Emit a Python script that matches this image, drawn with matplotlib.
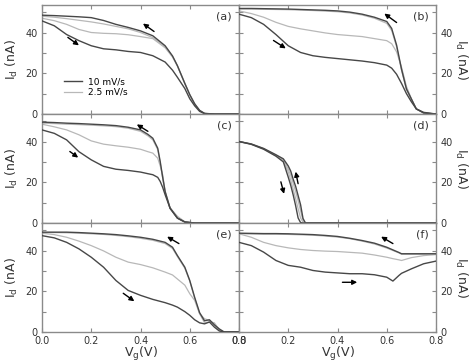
import numpy as np
import matplotlib
matplotlib.use('Agg')
import matplotlib.pyplot as plt

# ---- data (Vg in V, Id in nA) ----
vg_a = [0, 0.05, 0.1, 0.15, 0.2, 0.25, 0.3, 0.35, 0.4, 0.45, 0.5, 0.53, 0.55, 0.58, 0.6, 0.62, 0.64, 0.66, 0.7, 0.8]
a_bwd10 = [48.5, 48.3, 48.0, 47.7, 47.3, 45.9, 44.0, 42.5, 40.8, 38.4, 33.5, 28.5, 23.7, 15.0, 9.5, 5.0, 1.8, 0.3, 0, 0]
a_bwd25 = [48.0, 47.5, 46.8, 46.0, 45.2, 44.2, 43.0, 41.8, 40.0, 37.5, 33.0, 28.2, 23.5, 14.8, 9.3, 4.8, 1.6, 0.2, 0, 0]
a_fwd25 = [47.0, 45.8, 44.0, 41.5, 40.0, 39.6, 39.4, 38.9, 38.0, 37.0, 32.5, 28.0, 23.6, 15.2, 9.6, 5.0, 1.7, 0.3, 0, 0]
a_fwd10 = [45.7, 43.3, 39.0, 36.0, 33.5, 32.0, 31.5, 30.7, 30.2, 28.6, 25.5, 21.5, 18.0, 12.5, 7.5, 4.0, 1.3, 0.2, 0, 0]

vg_b = [0, 0.05, 0.1, 0.15, 0.2, 0.25, 0.3, 0.35, 0.4, 0.45, 0.5, 0.55, 0.6, 0.62, 0.64, 0.66, 0.68, 0.7, 0.72, 0.75, 0.8]
b_bwd10 = [51.8, 51.8, 51.7, 51.6, 51.5, 51.3, 51.1, 50.9, 50.6, 50.0, 49.0, 47.5, 45.4, 42.0, 33.8, 22.0, 12.3, 7.4, 2.5, 0.5, 0]
b_bwd25 = [51.5, 51.5, 51.4, 51.3, 51.2, 51.0, 50.8, 50.5, 50.2, 49.6, 48.6, 47.0, 44.5, 41.0, 33.0, 21.5, 12.0, 7.2, 2.4, 0.5, 0]
b_fwd25 = [50.6, 49.3, 47.5, 45.0, 43.0, 41.8, 40.8, 39.8, 39.0, 38.5, 38.0, 37.0, 36.0, 34.5, 30.5, 23.0, 13.5, 7.5, 2.5, 0.5, 0]
b_fwd10 = [49.0, 47.3, 44.0, 39.0, 33.5, 30.2, 28.6, 27.8, 27.2, 26.6, 26.0, 25.2, 24.0, 22.5, 19.5, 15.0, 10.0, 6.0, 2.5, 0.8, 0]

vg_c = [0, 0.05, 0.1, 0.15, 0.2, 0.25, 0.3, 0.35, 0.4, 0.43, 0.45, 0.47, 0.48, 0.49, 0.5, 0.52, 0.55, 0.58, 0.62, 0.8]
c_bwd10 = [49.5, 49.3, 49.0, 48.8, 48.5, 48.2, 47.8, 47.0, 45.7, 43.5, 41.6, 36.7, 30.2, 22.5, 15.5, 7.3, 2.4, 0.5, 0, 0]
c_bwd25 = [49.0, 48.8, 48.5, 48.3, 48.0, 47.7, 47.3, 46.5, 45.0, 42.8, 40.8, 36.0, 29.5, 22.0, 15.0, 7.0, 2.3, 0.4, 0, 0]
c_fwd25 = [48.5, 47.2, 45.7, 43.3, 40.3, 38.7, 37.9, 37.2, 36.2, 35.0, 34.3, 31.8, 28.0, 23.7, 15.5, 7.5, 3.3, 0.6, 0, 0]
c_fwd10 = [45.7, 44.0, 40.8, 35.0, 31.0, 27.8, 26.4, 25.8, 25.0, 24.2, 23.7, 22.4, 20.4, 17.5, 13.9, 7.3, 2.4, 0.5, 0, 0]

vg_d = [0, 0.05, 0.1, 0.15, 0.18, 0.2, 0.21, 0.22, 0.23, 0.24, 0.25, 0.26, 0.27, 0.8]
d_bwd10 = [40.0, 38.8, 36.6, 33.5, 31.5, 28.0, 25.5, 21.5, 18.0, 13.5, 9.0, 2.2, 0, 0]
d_bwd25 = [40.0, 38.7, 36.5, 33.3, 31.0, 26.5, 23.5, 19.5, 15.5, 11.0, 6.0, 1.2, 0, 0]
d_fwd25 = [40.0, 38.7, 36.4, 33.0, 30.7, 25.0, 21.0, 16.5, 12.0, 7.0, 2.5, 0.3, 0, 0]
d_fwd10 = [40.0, 38.6, 36.2, 32.8, 30.0, 22.5, 18.5, 13.8, 8.5, 2.5, 0.2, 0, 0, 0]

vg_e = [0, 0.05, 0.1, 0.15, 0.2, 0.25, 0.3, 0.35, 0.4, 0.45, 0.5, 0.53, 0.55, 0.58, 0.6, 0.62, 0.64, 0.66, 0.68, 0.7, 0.72, 0.74, 0.8]
e_bwd10 = [49.0, 49.0, 49.0, 48.8, 48.5, 48.2, 47.8, 47.2, 46.5, 45.5, 44.0, 41.6, 37.5, 31.8, 25.3, 17.0, 9.5, 5.5, 6.0, 3.5, 1.5, 0, 0]
e_bwd25 = [48.8, 48.8, 48.7, 48.5, 48.2, 47.9, 47.4, 46.8, 46.0, 45.0, 43.4, 41.0, 37.0, 31.3, 25.0, 16.5, 9.0, 4.5, 5.0, 4.5, 1.0, 0, 0]
e_fwd25 = [48.5, 47.8, 46.5, 44.6, 42.4, 39.8, 36.7, 34.3, 33.1, 31.5, 29.4, 28.0, 26.0, 23.0, 18.8, 15.5, 9.0, 6.5, 5.7, 4.0, 0.8, 0, 0]
e_fwd10 = [47.3, 46.2, 44.0, 40.8, 36.7, 31.8, 25.3, 20.4, 18.0, 16.0, 14.4, 13.2, 12.2, 10.0, 8.2, 6.0, 4.5, 4.0, 4.9, 2.4, 0.5, 0, 0]

vg_f = [0, 0.05, 0.1, 0.15, 0.2, 0.25, 0.3, 0.35, 0.4, 0.45, 0.5, 0.55, 0.6, 0.625, 0.65, 0.66, 0.7, 0.75, 0.8]
f_bwd10 = [48.5, 48.4, 48.3, 48.3, 48.2, 48.0, 47.8, 47.4, 46.9, 46.0, 44.9, 43.6, 41.6, 40.3, 39.0, 38.4, 38.4, 38.4, 38.4]
f_bwd25 = [48.2, 48.1, 48.0, 48.0, 47.9, 47.7, 47.5, 47.1, 46.6, 45.8, 44.6, 43.2, 41.2, 40.0, 38.8, 38.2, 38.2, 38.2, 38.2]
f_fwd25 = [48.2, 46.5, 44.0, 42.4, 41.3, 40.5, 40.0, 39.7, 39.5, 39.1, 38.7, 37.8, 36.7, 36.0, 35.4, 35.1, 36.5, 37.5, 38.0]
f_fwd10 = [44.0, 42.4, 39.2, 35.1, 32.7, 31.8, 30.2, 29.4, 29.0, 28.6, 28.6, 28.1, 26.9, 25.0, 27.8, 28.8, 31.0, 33.5, 34.8]

panel_labels = ['(a)', '(b)', '(c)', '(d)', '(e)', '(f)']

# arrows: (tail, head) in data coords
arrows = [
    [((0.455, 40.5), (0.41, 44.4)), ((0.105, 37.6), (0.15, 33.7))],
    [((0.64, 44.9), (0.59, 49.3)), ((0.14, 36.1), (0.19, 32.2))],
    [((0.43, 45.0), (0.385, 48.4)), ((0.113, 35.1), (0.147, 32.1))],
    [((0.24, 19.3), (0.23, 25.2)), ((0.17, 20.2), (0.183, 14.3))],
    [((0.556, 43.4), (0.508, 46.8)), ((0.33, 19.0), (0.375, 15.1))],
    [((0.625, 43.4), (0.577, 46.8)), ((0.42, 24.4), (0.48, 24.4))],
]

panels = [
    (vg_a, a_bwd10, a_bwd25, a_fwd25, a_fwd10),
    (vg_b, b_bwd10, b_bwd25, b_fwd25, b_fwd10),
    (vg_c, c_bwd10, c_bwd25, c_fwd25, c_fwd10),
    (vg_d, d_bwd10, d_bwd25, d_fwd25, d_fwd10),
    (vg_e, e_bwd10, e_bwd25, e_fwd25, e_fwd10),
    (vg_f, f_bwd10, f_bwd25, f_fwd25, f_fwd10),
]

dark = '#474747'
light = '#b8b8b8'
spine_col = '#8a8a8a'

plt.rcParams['font.family'] = 'DejaVu Sans'
fig = plt.figure(figsize=(4.74, 3.63), dpi=100)

W, H = 474.0, 363.0
lefts = [42, 239]
tops = [5, 114, 223]
aw, ah = 197, 109

for i, (vg, bwd10, bwd25, fwd25, fwd10) in enumerate(panels):
    row, col = i // 2, i % 2
    ax = fig.add_axes([lefts[col] / W, 1 - (tops[row] + ah) / H, aw / W, ah / H])

    l1, = ax.plot(vg, bwd10, color=dark, lw=1.0, zorder=3)
    l2, = ax.plot(vg, bwd25, color=light, lw=0.9, zorder=2)
    ax.plot(vg, fwd25, color=light, lw=0.9, zorder=2)
    ax.plot(vg, fwd10, color=dark, lw=1.0, zorder=3)

    for tail, head in arrows[i]:
        ax.annotate('', xy=head, xytext=tail,
                    arrowprops=dict(arrowstyle='-|>', color='black', lw=1.0,
                                    mutation_scale=7, shrinkA=0, shrinkB=0))

    ax.set_xlim(0, 0.8)
    ax.set_ylim(0, 53.5)
    ax.set_xticks([0, 0.2, 0.4, 0.6, 0.8])
    ax.set_yticks([0, 10, 20, 30, 40, 50])
    ax.set_yticklabels(['0', '', '20', '', '40', ''])
    ax.tick_params(direction='in', top=True, right=True, length=3,
                   width=0.8, color=spine_col, labelsize=7, labelcolor='#333333',
                   pad=3)
    for s in ax.spines.values():
        s.set_color(spine_col)
        s.set_linewidth(1.0)

    if row < 2:
        ax.set_xticklabels([])
    else:
        ax.set_xticklabels(['0.0', '0.2', '0.4', '0.6', '0.8'])
        ax.set_xlabel(r'V$_\mathrm{g}$(V)', fontsize=9, color='#333333', labelpad=-1)

    if col == 0:
        ax.set_ylabel(r'I$_\mathrm{d}$ (nA)', fontsize=9, color='#333333', labelpad=4)
    else:
        ax.yaxis.tick_right()
        ax.tick_params(axis='y', left=True, right=True, labelleft=False, labelright=True)
        ax.yaxis.set_label_position('right')
        ax.set_ylabel(r'I$_\mathrm{d}$ (nA)', fontsize=9, color='#333333',
                      rotation=270, labelpad=12)

    ax.text(0.965, 0.89, panel_labels[i], transform=ax.transAxes,
            ha='right', va='center', fontsize=8, color='#333333')

    if i == 0:
        ax.legend([l1, l2], ['10 mV/s', '2.5 mV/s'], loc='lower left',
                  bbox_to_anchor=(0.08, 0.1), frameon=False, fontsize=6.5,
                  handlelength=2.0, handletextpad=0.6, labelspacing=0.15,
                  borderpad=0.2)

fig.savefig('out.png', dpi=100)
